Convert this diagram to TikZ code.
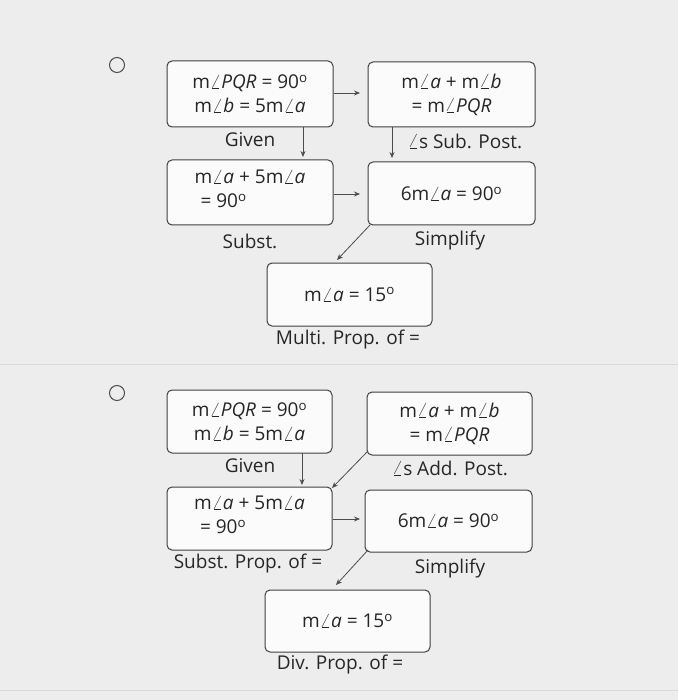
\documentclass[tikz,border=0pt]{standalone}
\usepackage{fontspec}
\setmainfont{Open Sans}
\usetikzlibrary{arrows.meta}
\newcommand\myang{\ensuremath{\angle}}
\newcommand\dg{\textsuperscript{o}}
\begin{document}
\begin{tikzpicture}[x=1pt,y=-1pt,
  box/.style={draw=black!75,line width=1pt,rounded corners=5pt,fill=white!50!black!3,font=\fontsize{19}{24}\selectfont,text=black!85,align=center,inner sep=0pt},
  lab/.style={font=\fontsize{19}{22}\selectfont,text=black!85},
  arr/.style={draw=black!70,line width=0.8pt,-{Stealth[length=6pt,width=5pt]}}]
\fill[black!7] (0,0) rectangle (678,700);
\useasboundingbox (0,0) rectangle (678,700);
\draw[black!15,line width=1pt] (0,364) -- (678,364);
\draw[black!15,line width=1pt] (0,690) -- (678,690);
\draw[black!70,line width=1pt] (117,65) circle (7.5pt);
\draw[black!70,line width=1pt] (117,393) circle (7.5pt);
% ---- top
\node[box,minimum width=166pt,minimum height=66pt] (a1) at (250,94) {m\myang\textit{PQR} = 90\dg\\m\myang\textit{b} = 5m\myang\textit{a}};
\node[box,minimum width=167pt,minimum height=65pt] (b1) at (451.5,94.5) {m\myang\textit{a} + m\myang\textit{b}\\= m\myang\textit{PQR}};
\node[box,minimum width=166pt,minimum height=65pt,align=left,text depth=8pt] (c1) at (250,192.5) {m\myang\textit{a} + 5m\myang\textit{a}\\\hspace{6pt}= 90\dg};
\node[box,minimum width=167pt,minimum height=63pt] (d1) at (451.5,193.5) {6m\myang\textit{a} = 90\dg};
\node[box,minimum width=165pt,minimum height=63pt] (e1) at (349.5,294.5) {m\myang\textit{a} = 15\dg};
\node[lab] (g1) at (250,140) {Given};
\node[lab] (s1) at (465,141) {\myang s Sub. Post.};
\node[lab] (t1) at (250,241) {Subst.};
\node[lab] (p1) at (450,241) {Simplify};
\node[lab] (m1) at (348,340) {Multi. Prop. of =};
\draw[arr] (a1.east |- 0,93) -- (360,93);
\draw[arr] (303,127) -- (303,157);
\draw[arr] (392,127) -- (392,158);
\draw[arr] (c1.east |- 0,194) -- (360,194);
\draw[arr] (370,225) -- (337,260);
% ---- bottom
\node[box,minimum width=165pt,minimum height=63pt] (a2) at (249.5,421.5) {m\myang\textit{PQR} = 90\dg\\m\myang\textit{b} = 5m\myang\textit{a}};
\node[box,minimum width=165pt,minimum height=63pt] (b2) at (449.5,423.5) {m\myang\textit{a} + m\myang\textit{b}\\= m\myang\textit{PQR}};
\node[box,minimum width=165pt,minimum height=63pt,align=left,text depth=8pt] (c2) at (249.5,518.5) {m\myang\textit{a} + 5m\myang\textit{a}\\\hspace{6pt}= 90\dg};
\node[box,minimum width=167pt,minimum height=62pt] (d2) at (448.5,521) {6m\myang\textit{a} = 90\dg};
\node[box,minimum width=165pt,minimum height=62pt] (e2) at (347.5,621) {m\myang\textit{a} = 15\dg};
\node[lab] (g2) at (250,466) {Given};
\node[lab] (s2) at (450,468) {\myang s Add. Post.};
\node[lab] (t2) at (248,564) {Subst. Prop. of =};
\node[lab] (p2) at (450,569) {Simplify};
\node[lab] (m2) at (340,665) {Div. Prop. of =};
\draw[arr] (302,453) -- (302,485);
\draw[arr] (367,452) -- (332,488);
\draw[arr] (c2.east |- 0,519) -- (360,519);
\draw[arr] (368,550) -- (336,585);
\end{tikzpicture}
\end{document}
